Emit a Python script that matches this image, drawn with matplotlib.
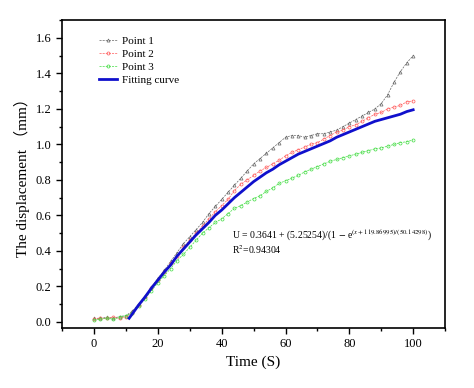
import numpy as np
import matplotlib
matplotlib.use("Agg")
import matplotlib.pyplot as plt
from matplotlib.ticker import MultipleLocator

plt.rcParams['font.family'] = ['Liberation Serif', 'Noto Sans CJK SC', 'DejaVu Sans']
plt.rcParams['mathtext.fontset'] = 'stix'

# time samples of the measured points (s)
t_pts = list(range(0, 101, 2))

point1 = [0.02, 0.02, 0.025, 0.02, 0.03, 0.035, 0.06, 0.10, 0.145, 0.195,
          0.245, 0.29, 0.34, 0.39, 0.44, 0.48, 0.52, 0.56, 0.61, 0.65,
          0.69, 0.73, 0.77, 0.81, 0.85, 0.89, 0.92, 0.95, 0.98, 1.01,
          1.04, 1.05, 1.05, 1.04, 1.05, 1.06, 1.06, 1.07, 1.08, 1.10,
          1.12, 1.14, 1.16, 1.18, 1.20, 1.23, 1.28, 1.35, 1.41, 1.46, 1.50]

point2 = [0.015, 0.02, 0.02, 0.025, 0.02, 0.03, 0.05, 0.095, 0.14, 0.19,
          0.235, 0.28, 0.33, 0.37, 0.42, 0.46, 0.50, 0.54, 0.58, 0.62,
          0.655, 0.69, 0.74, 0.775, 0.80, 0.825, 0.85, 0.87, 0.89, 0.91,
          0.935, 0.955, 0.97, 0.985, 1.00, 1.01, 1.03, 1.05, 1.07, 1.08,
          1.10, 1.11, 1.13, 1.15, 1.17, 1.18, 1.20, 1.21, 1.22, 1.24, 1.245]

point3 = [0.01, 0.015, 0.02, 0.015, 0.025, 0.035, 0.05, 0.09, 0.13, 0.175,
          0.22, 0.26, 0.30, 0.345, 0.38, 0.42, 0.46, 0.50, 0.53, 0.56,
          0.58, 0.61, 0.64, 0.655, 0.675, 0.695, 0.71, 0.735, 0.755, 0.78,
          0.795, 0.81, 0.825, 0.845, 0.86, 0.875, 0.89, 0.905, 0.915, 0.925,
          0.935, 0.945, 0.955, 0.965, 0.975, 0.98, 0.99, 1.00, 1.01, 1.015, 1.025]

# fitting curve
t_fit = [11] + list(range(12, 101, 2))
u_fit = [0.02, 0.045, 0.095, 0.14, 0.19, 0.235, 0.28, 0.32, 0.37, 0.41,
         0.45, 0.49, 0.525, 0.56, 0.60, 0.63, 0.665, 0.70, 0.73, 0.76,
         0.79, 0.815, 0.84, 0.86, 0.885, 0.905, 0.925, 0.945, 0.96, 0.975,
         0.99, 1.005, 1.02, 1.04, 1.055, 1.07, 1.085, 1.10, 1.115, 1.13,
         1.14, 1.15, 1.16, 1.17, 1.185, 1.195]

fig = plt.figure(figsize=(4.74, 3.88), dpi=100)
ax = fig.add_axes([0.131, 0.155, 0.808, 0.793])

ax.plot(t_pts, point1, color="#666666", lw=0.5, ls=(0, (3, 1.5)), marker="^",
        ms=2.2, mfc="none", mew=0.5, label="Point 1")
ax.plot(t_pts, point2, color="#ff5a5a", lw=0.5, ls=(0, (3, 1.5)), marker="o",
        ms=2.2, mfc="none", mew=0.5, label="Point 2")
ax.plot(t_pts, point3, color="#44dd44", lw=0.5, ls=(0, (3, 1.5)), marker="o",
        ms=2.2, mfc="none", mew=0.5, label="Point 3")
ax.plot(t_fit, u_fit, color="#1010cc", lw=2.0, label="Fitting curve")

ax.set_xlim(-10, 110)
ax.set_ylim(-0.034, 1.70)
ax.xaxis.set_major_locator(MultipleLocator(20))
ax.xaxis.set_minor_locator(MultipleLocator(10))
ax.yaxis.set_major_locator(MultipleLocator(0.2))
ax.yaxis.set_minor_locator(MultipleLocator(0.1))
ax.tick_params(which="major", direction="out", length=4, width=1, labelsize=9)
ax.tick_params(which="minor", direction="out", length=2.5, width=1)
for s in ax.spines.values():
    s.set_linewidth(1.2)

ax.set_xlabel("Time (S)", fontsize=11)
ax.set_ylabel("The displacement （mm）", fontsize=11)

ax.text(43.3, 0.485,
        r"U = 0.3641 + (5.25254)/(1 $-$ e$^{(x + 119.86995)/(50.14298)}$)",
        fontsize=7, ha="left", va="center")
ax.text(43.3, 0.41, r"R$^{2}$=0.94304", fontsize=7, ha="left", va="center")

ax.legend(loc="upper left", bbox_to_anchor=(0.08, 0.97), frameon=False,
          fontsize=8, handlelength=1.6, handletextpad=0.4, labelspacing=0.3,
          borderaxespad=0.2)

fig.savefig("out.png", dpi=100, facecolor="white")
